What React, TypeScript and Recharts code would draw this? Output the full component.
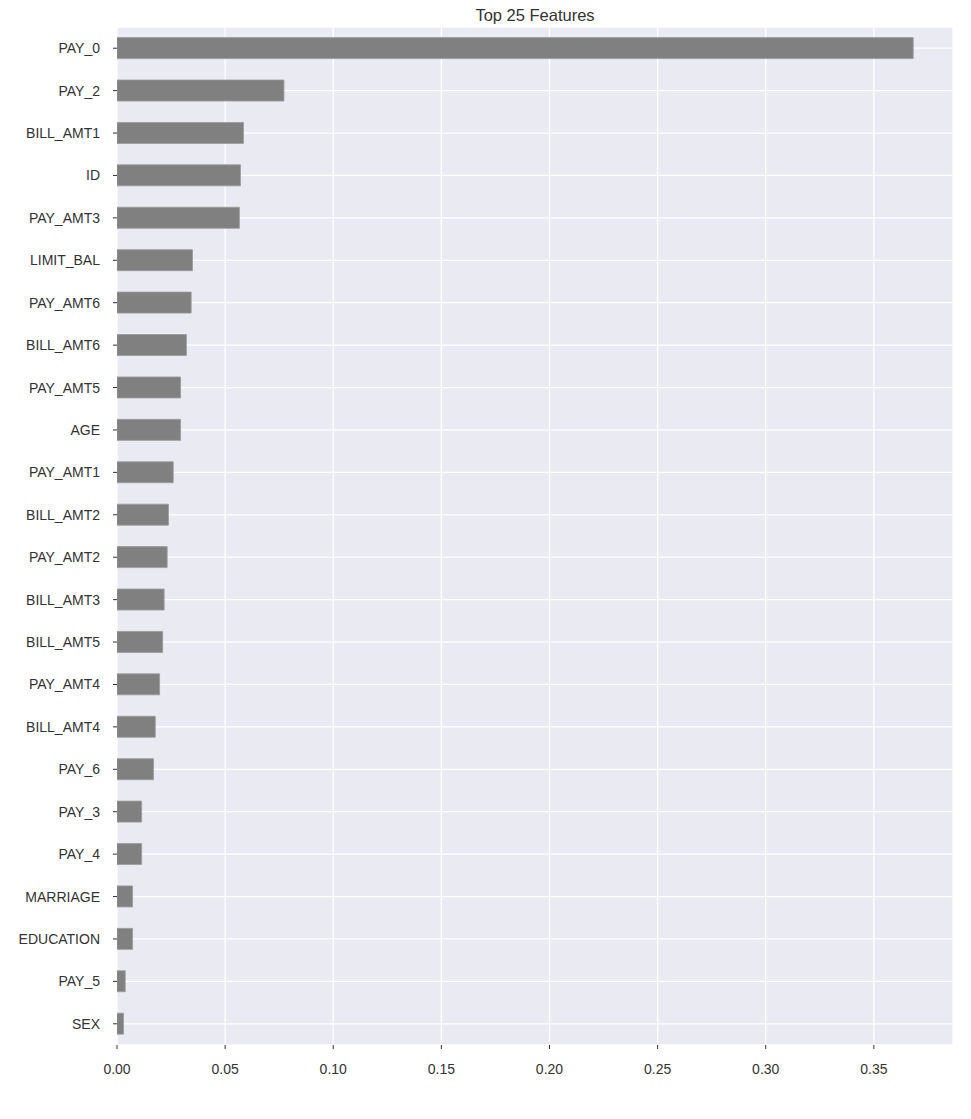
import React from "react";
import { BarChart, Bar, XAxis, YAxis, CartesianGrid, Customized } from "recharts";

const features: string[] = [
  "PAY_0", "PAY_2", "BILL_AMT1", "ID", "PAY_AMT3", "LIMIT_BAL", "PAY_AMT6", "BILL_AMT6",
  "PAY_AMT5", "AGE", "PAY_AMT1", "BILL_AMT2", "PAY_AMT2", "BILL_AMT3", "BILL_AMT5",
  "PAY_AMT4", "BILL_AMT4", "PAY_6", "PAY_3", "PAY_4", "MARRIAGE", "EDUCATION", "PAY_5", "SEX",
];

const importances: number[] = [
  0.3682, 0.0772, 0.0585, 0.0571, 0.0566, 0.0349, 0.0343, 0.0321,
  0.0294, 0.0294, 0.026, 0.0238, 0.0232, 0.0218, 0.0211,
  0.0197, 0.0177, 0.0169, 0.0114, 0.0114, 0.0072, 0.0072, 0.0038, 0.003,
];

const xTicks: number[] = [0, 0.05, 0.1, 0.15, 0.2, 0.25, 0.3, 0.35];
const xMax = 0.3866;
const title = "Top 25 Features";

const data = features.map((name, i) => ({ name, value: importances[i] }));

const FONT = "'Liberation Sans', Arial, sans-serif";
const TEXT = "#333333";

const Title = () => (
  <text x={527} y={20.5} textAnchor="middle" fill={TEXT} fontSize={16.5} fontFamily={FONT}>
    {title}
  </text>
);

export default function App() {
  return (
    <div style={{ marginTop: -8, width: 955, height: 1108, fontFamily: FONT }}>
      <BarChart
        width={955}
        height={1108}
        data={data}
        layout="vertical"
        margin={{ top: 27, right: 10, left: 0, bottom: 33 }}
        barCategoryGap="25%"
      >
        <CartesianGrid fill="#EAEAF2" stroke="#FFFFFF" strokeWidth={1.3} />
        <XAxis
          type="number"
          domain={[0, xMax]}
          ticks={xTicks}
          allowDataOverflow
          tickFormatter={(v: number) => v.toFixed(2)}
          axisLine={false}
          tickLine={{ stroke: TEXT, strokeWidth: 1 }}
          tickSize={4}
          tickMargin={15}
          height={30}
          tick={{ fill: TEXT, fontSize: 14, fontFamily: FONT }}
        />
        <YAxis
          type="category"
          dataKey="name"
          width={109}
          axisLine={false}
          tickLine={{ stroke: TEXT, strokeWidth: 1 }}
          tickSize={4}
          tickMargin={13}
          interval={0}
          tick={{ fill: TEXT, fontSize: 14, fontFamily: FONT }}
        />
        <Bar dataKey="value" fill="#808080" stroke="#9a9a9a" strokeWidth={0.8} isAnimationActive={false} />
        <Customized component={Title} />
      </BarChart>
    </div>
  );
}
